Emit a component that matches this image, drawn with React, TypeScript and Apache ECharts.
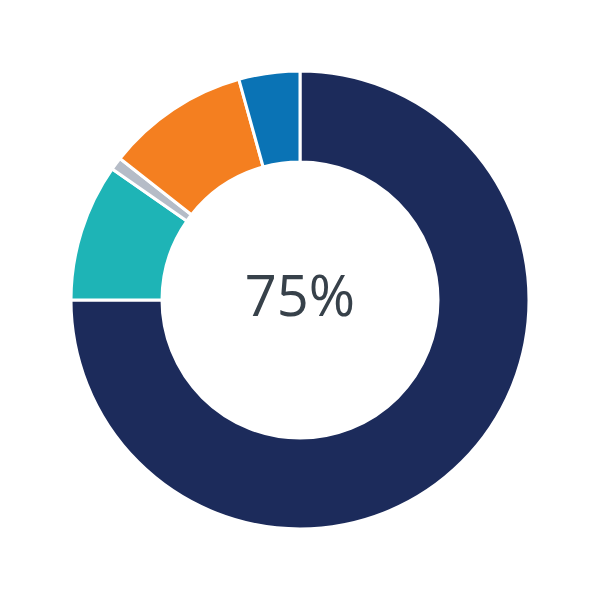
import React, { useEffect, useRef } from "react";
import * as echarts from "echarts";

const categories = ["A", "B", "C", "D", "E"];
const values = [75, 9.7, 0.9, 10.1, 4.3];
const colors = ["#1c2b5b", "#1eb4b6", "#b5bcc7", "#f47f20", "#0a73b5"];
const centerLabel = "75%";

export default function App() {
  const ref = useRef<HTMLDivElement>(null);
  useEffect(() => {
    if (!ref.current) return;
    const chart = echarts.init(ref.current, undefined, { renderer: "svg" });
    chart.setOption({
      animation: false,
      backgroundColor: "#ffffff",
      graphic: [
        {
          type: "text",
          x: 300,
          y: 294,
          style: {
            text: centerLabel,
            align: "center",
            verticalAlign: "middle",
            fontFamily: "Open Sans",
            fontWeight: 400,
            fontSize: 56,
            fill: "#37414a",
          },
        },
      ],
      series: [
        {
          type: "pie",
          center: [300, 300],
          radius: [138, 229],
          startAngle: 90,
          clockwise: true,
          label: { show: false },
          labelLine: { show: false },
          itemStyle: { borderColor: "#ffffff", borderWidth: 3 },
          emphasis: { disabled: true },
          data: categories.map((c, i) => ({
            name: c,
            value: values[i],
            itemStyle: { color: colors[i] },
          })),
        },
      ],
    });
    return () => chart.dispose();
  }, []);
  return (
    <div
      ref={ref}
      style={{ position: "fixed", left: 0, top: 0, width: 600, height: 600 }}
    />
  );
}
